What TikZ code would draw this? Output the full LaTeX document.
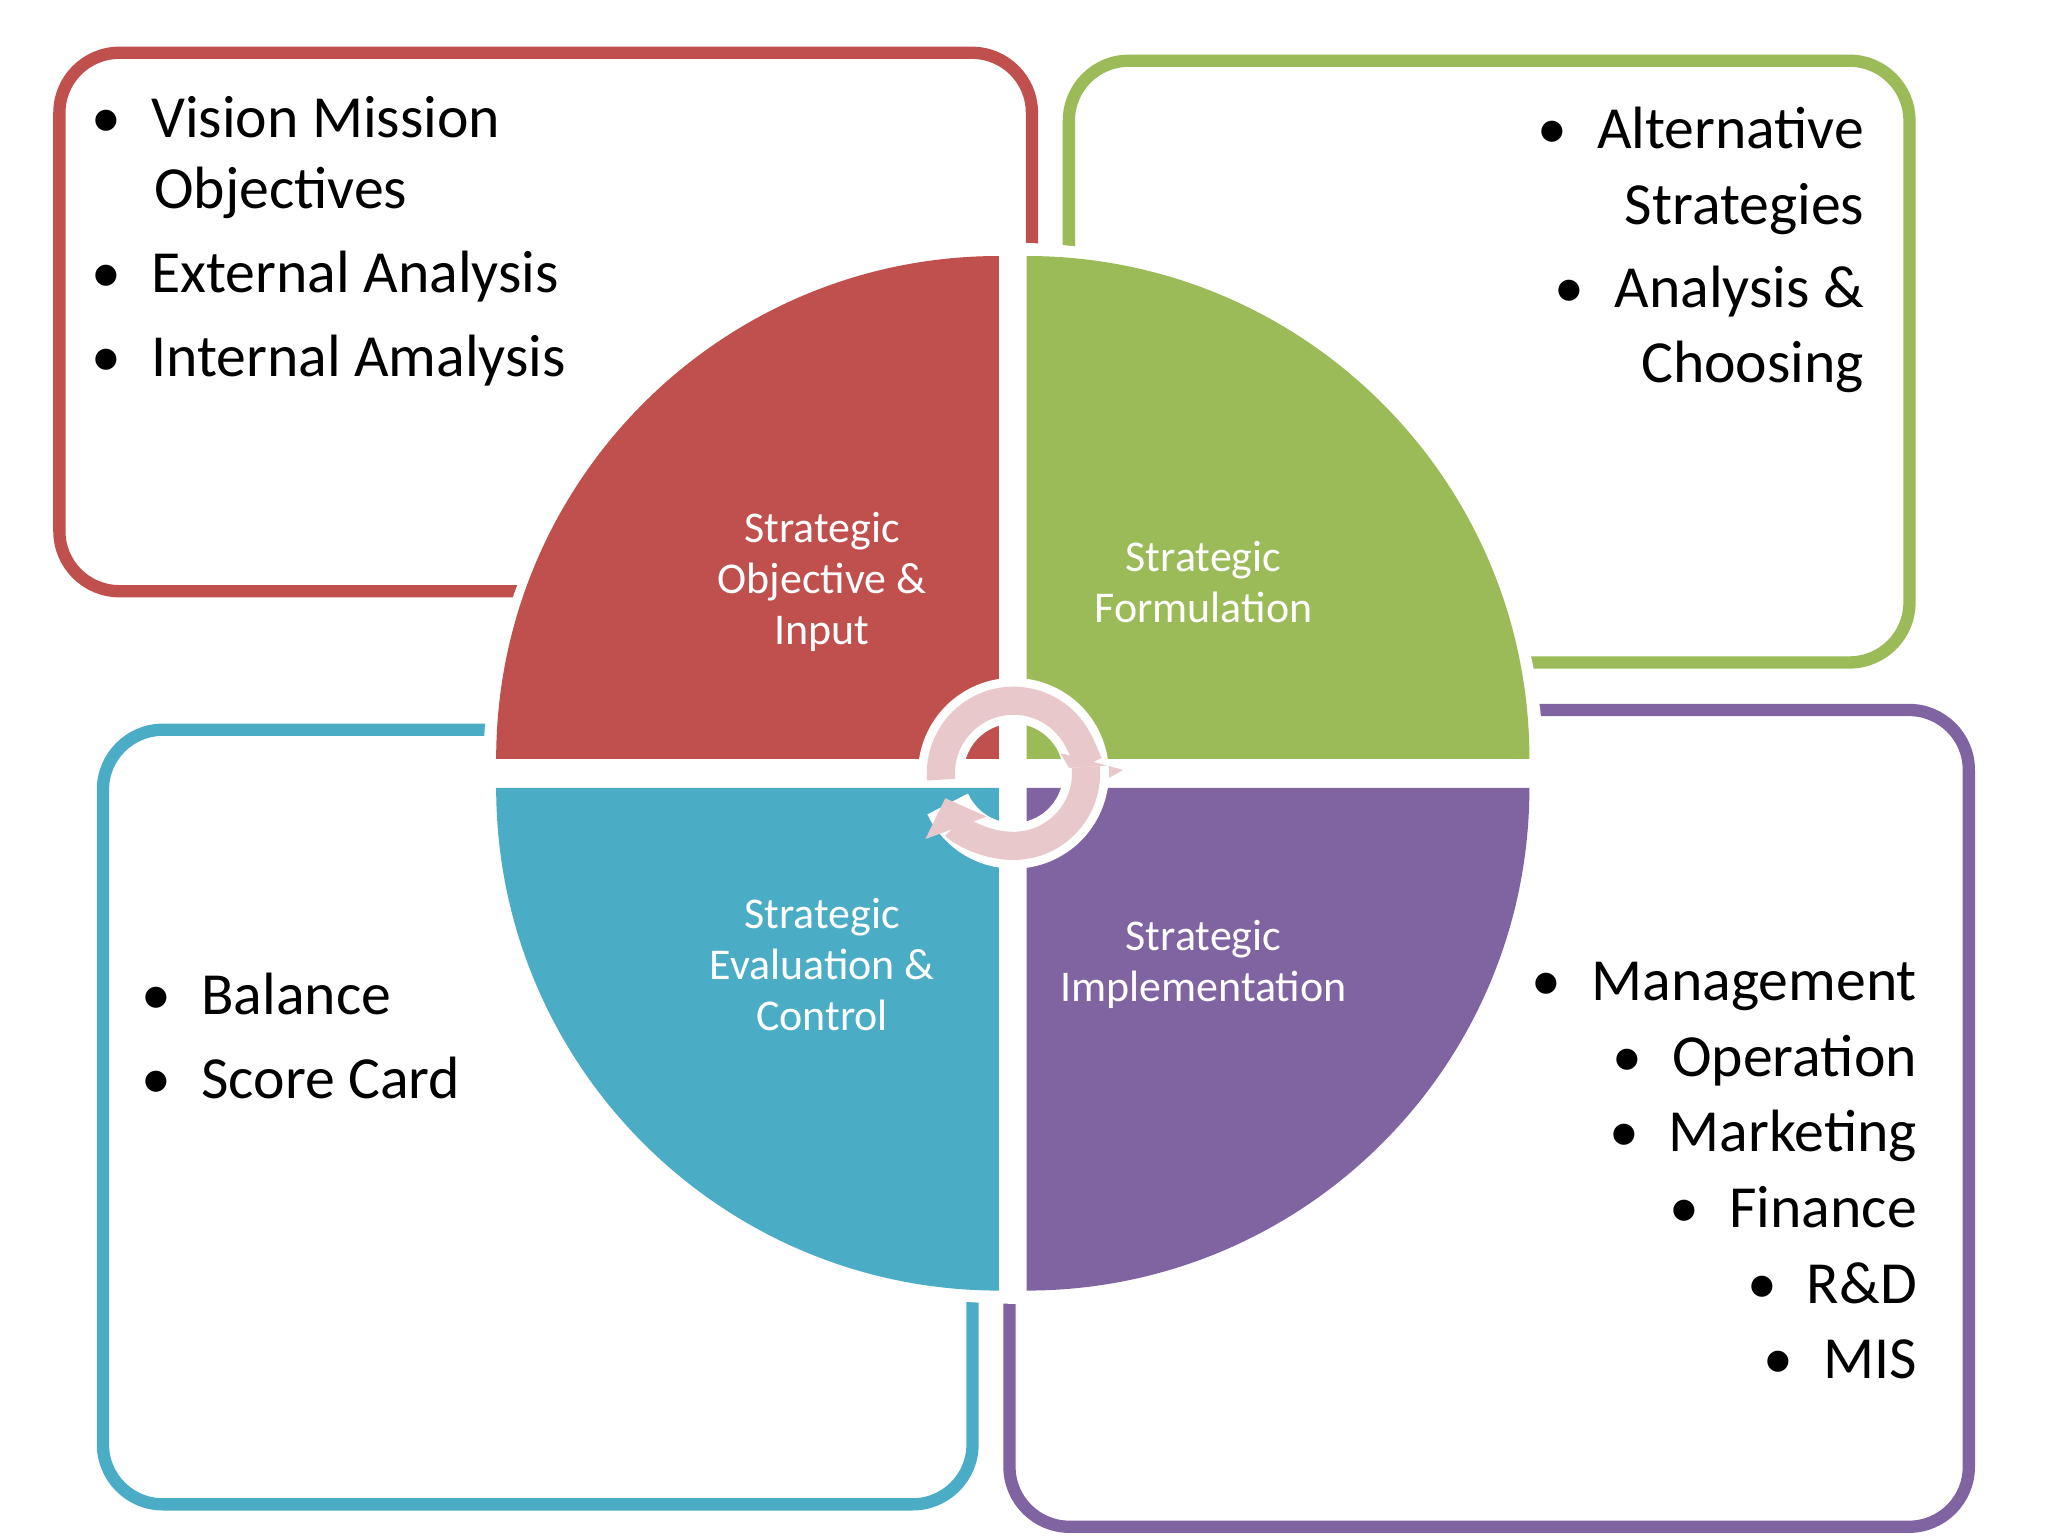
\documentclass[tikz,border=0pt]{standalone}
\usepackage{fontspec}
\setmainfont{Carlito}
\usetikzlibrary{arrows.meta}
\definecolor{cred}{HTML}{C0504D}
\definecolor{cgreen}{HTML}{9BBB59}
\definecolor{cblue}{HTML}{4BACC6}
\definecolor{cpurple}{HTML}{8064A2}
\definecolor{cpink}{HTML}{E8C8CA}
\tikzset{
  box/.style={line width=3.5pt, rounded corners=0.6cm},
  quad/.style={text=white, font=\fontsize{12.5}{14.5}\selectfont, align=center},
  list/.style={font=\fontsize{17}{20}\selectfont, anchor=north west, align=left},
  rlist/.style={font=\fontsize{17}{21.5}\selectfont, anchor=north east, align=right},
}
\begin{document}
\begin{tikzpicture}[x=0.0132cm, y=-0.0132cm]
		\useasboundingbox (0,0) rectangle (1552,1164);
		\coordinate (O) at (768,586);
		% outer boxes
		\draw[box, cred] (45,40) rectangle (782,448);
		\draw[box, cgreen] (810,46) rectangle (1447,502);
		\draw[box, cblue] (78,553) rectangle (737,1140);
		\draw[box, cpurple] (765,538) rectangle (1492,1157);
		\fill[white] (O) circle (402);
		% quarters (y axis points down, so angles are mirrored)
		\fill[cred] (757,575) -- ++(-381,0) arc (180:270:381) -- cycle;
		\fill[cgreen] (778,575) -- ++(0,-381) arc (270:360:381) -- cycle;
		\fill[cblue] (757,597) -- ++(0,381) arc (90:180:381) -- cycle;
		\fill[cpurple] (778,597) -- ++(381,0) arc (0:90:381) -- cycle;
		% cycle arrows
		\draw[white, line width=13pt] ([shift={(175:55)}]O) arc (175:370:55);
		\draw[cpink, line width=8pt, -{Triangle[length=9pt,width=18pt]}] ([shift={(175:55)}]O) arc (175:375:55);
		\draw[white, line width=13pt] ([shift={(-5:55)}]O) arc (-5:155:55);
		\draw[cpink, line width=8pt, -{Triangle[length=9pt,width=18pt]}] ([shift={(-5:55)}]O) arc (-5:160:55);
		% labels
		\node[quad] (q1) at (623,441) {Strategic\\Objective \&\\Input};
		\node[quad] (q2) at (912,441) {Strategic\\Formulation};
		\node[quad] (q3) at (623,731) {Strategic\\Evaluation \&\\Control};
		\node[quad] (q4) at (912,731) {Strategic\\Implementation};
		\node[list] (l1) at (60,64) {\textbullet\hspace{0.5em}Vision Mission\\\hspace{1.05em}Objectives\\[4pt]\textbullet\hspace{0.5em}External Analysis\\[4pt]\textbullet\hspace{0.5em}Internal Amalysis};
		\node[rlist] (l2) at (1422,72) {\textbullet\hspace{0.5em}Alternative\\Strategies\\[2pt]\textbullet\hspace{0.5em}Analysis \&\\Choosing};
		\node[list] (l3) at (98,728) {\textbullet\hspace{0.5em}Balance\\[4pt]\textbullet\hspace{0.5em}Score Card};
		\node[rlist] (l4) at (1462,720) {\textbullet\hspace{0.5em}Management\\\textbullet\hspace{0.5em}Operation\\\textbullet\hspace{0.5em}Marketing\\\textbullet\hspace{0.5em}Finance\\\textbullet\hspace{0.5em}R\&D\\\textbullet\hspace{0.5em}MIS};
	\end{tikzpicture}
\end{document}
